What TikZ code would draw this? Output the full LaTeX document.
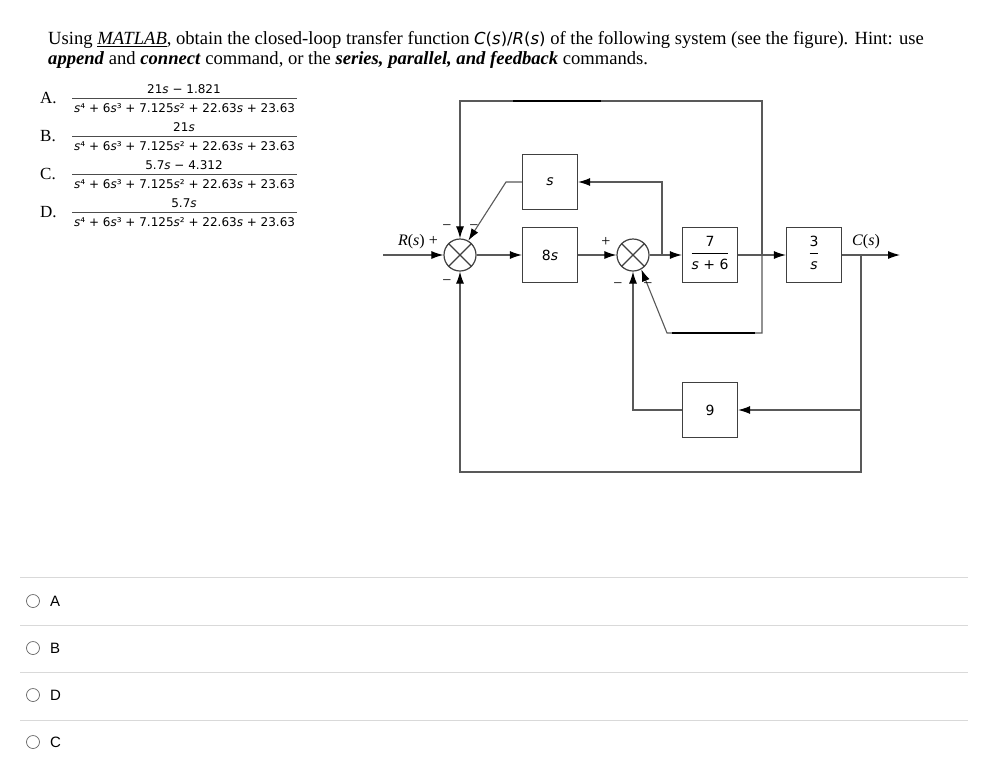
\documentclass[tikz,border=0pt]{standalone}
\usepackage{fontspec}
\setmainfont{Liberation Serif}
\newfontfamily\optfont{Liberation Sans}
\newfontfamily\frfont{DejaVu Sans}
\usetikzlibrary{arrows.meta}
\newcommand{\blkfrac}[2]{\begin{tabular}{@{}c@{}}#1\\[2pt]\hline\rule{0pt}{17pt}#2\end{tabular}}
\begin{document}
\begin{tikzpicture}[x=1pt,y=-1pt,
  blk/.style={draw=black!75,line width=1.2pt,minimum width=55pt,minimum height=55pt,inner sep=0pt,font=\frfont\fontsize{14}{15}\selectfont},
  sumj/.style={draw=black!75,line width=1.2pt,circle,minimum size=32pt,inner sep=0pt},
  wire/.style={draw=black!65,line width=1.1pt},
  arr/.style={wire,-{Latex[length=12pt,width=8pt,color=black]}},
  sgn/.style={font=\fontsize{16}{16}\selectfont,inner sep=0pt},
  frac/.style={anchor=west,font=\frfont\fontsize{12}{13}\selectfont,inner sep=0pt},
  lett/.style={anchor=west,font=\fontsize{17}{18}\selectfont,inner sep=0pt},
  opt/.style={anchor=west,font=\optfont\fontsize{15}{16}\selectfont,inner sep=0pt},
  rad/.style={draw=black!60,circle,minimum size=13pt,inner sep=0pt,line width=0.7pt},
  sep/.style={draw=black!15,line width=0.8pt}]
\useasboundingbox (0,0) rectangle (987,774);
\fill[white] (0,0) rectangle (987,774);
\node[anchor=west,font=\fontsize{18.6}{20}\selectfont,inner sep=0pt] (t1) at (48,40) {Using \underline{\textit{MATLAB}}, obtain the closed-loop transfer function {\frfont\fontsize{16.5}{18}\selectfont\textit{C}(\textit{s})/\textit{R}(\textit{s})} of the following system (see the figure). Hint: use};
\node[anchor=west,font=\fontsize{18.6}{20}\selectfont,inner sep=0pt] (t2) at (48,60) {\textbf{\textit{append}} and \textbf{\textit{connect}} command, or the \textbf{\textit{series, parallel, and feedback}} commands.};
\foreach \L/\n/\y in {A/21{\itshape s} − 1.821/89, B/21{\itshape s}/127, C/5.7{\itshape s} − 4.312/165, D/5.7{\itshape s}/203}{
  \node[lett] (L\L) at (40,\y+9) {\L.};
  \node[font=\frfont\fontsize{12}{13}\selectfont,inner sep=0pt] (N\L) at (184,\y) {\n};
  \draw[black!70,line width=0.8pt] (72,\y+9) -- (297,\y+9);
  \node[frac] (D\L) at (74,\y+19) {{\itshape s}⁴ + 6{\itshape s}³ + 7.125{\itshape s}² + 22.63{\itshape s} + 23.63};
}
% diagram
\node[sumj] (s1) at (460,255) {};
\node[sumj] (s2) at (633,255) {};
\foreach \s in {s1,s2}{\draw[black!75,line width=1.1pt] (\s.45)--(\s.225) (\s.135)--(\s.-45);}
\node[blk] (b8) at (550,255) {8{\itshape s}};
\node[blk] (bs) at (550,182) {{\itshape s}};
\node[blk] (b7) at (710,255) {\blkfrac{7}{{\itshape s} + 6}};
\node[blk] (b3) at (814,255) {\blkfrac{3}{{\itshape s}}};
\node[blk] (b9) at (710,410) {9};
\coordinate (in) at (383,255);
\coordinate (out) at (900,255);
\coordinate (br1) at (662,255);
\coordinate (br2) at (762,255);
\coordinate (br3) at (861,255);
\draw[arr] (in) -- (s1);
\draw[arr] (s1) -- (b8);
\draw[arr] (b8) -- (s2);
\draw[arr] (s2) -- (b7);
\draw[arr] (b7) -- (b3);
\draw[arr] (b3) -- (out);
\draw[arr] (br1) |- (bs.east);
\draw[arr] (bs.west) -- (506,182) -- (s1.60);
\draw[arr] (br2) -- (762,101) -- (460,101) -- (s1.north);
\draw[black,line width=1.8pt] (513,101) -- (601,101);
\draw[arr] (br2) -- (762,333) -- (667,333) -- (s2.-60);
\draw[black,line width=1.8pt] (672,333) -- (755,333);
\draw[arr] (br3) |- (b9.east);
\draw[arr] (b9.west) -| (s2.south);
\draw[arr] (br3) |- (460,472) -- (s1.south);
\node[font=\fontsize{16}{18}\selectfont,anchor=east,inner sep=0pt] (R) at (438,242) {\textit{R}(\textit{s}) +};
\node[font=\fontsize{16}{18}\selectfont,inner sep=0pt] (C) at (866,242) {\textit{C}(\textit{s})};
\node[sgn] (m1) at (447,228) {−};
\node[sgn] (m2) at (474,228) {−};
\node[sgn] (m3) at (447,283) {−};
\node[sgn] (p2) at (606,242) {+};
\node[sgn] (m4) at (618,286) {−};
\node[sgn] (m5) at (648,286) {−};
% options
\foreach \y in {577,625,672,720}{\draw[sep] (20,\y) -- (968,\y);}
\foreach \l/\y in {A/601,B/648,D/695,C/742}{
  \node[rad] (r\l) at (33,\y) {};
  \node[opt] (o\l) at (50,\y) {\l};
}
\end{tikzpicture}
\end{document}
